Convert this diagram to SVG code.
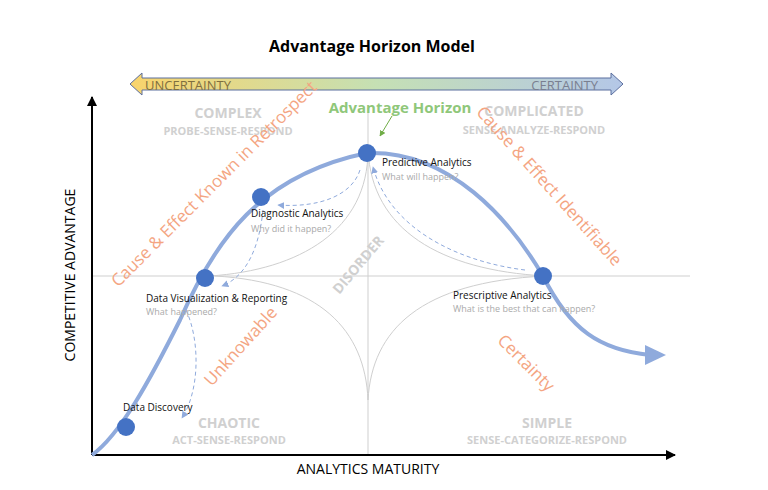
<svg xmlns="http://www.w3.org/2000/svg" width="768" height="490" viewBox="0 0 768 490">
<style>
.t{font-family:"Open Sans","Liberation Sans",sans-serif}
.dom{fill:#d0d0d0;font-weight:bold;font-size:14px}
.sub{fill:#d0d0d0;font-weight:bold;font-size:11px}
.or{fill:#f4a582;font-size:17px}
.lbl{fill:#111;font-size:10px}
.q{fill:#aaa;font-size:9px}
.g{fill:none;stroke:#cfcfcf;stroke-width:1}
.d{fill:none;stroke:#8faadc;stroke-width:1;stroke-dasharray:4 3}
.n{fill:#4472c4}
</style>
<defs>
<linearGradient id="gr" x1="0" x2="1"><stop offset="0" stop-color="#f9d46c"/><stop offset="0.5" stop-color="#c5e0b4"/><stop offset="1" stop-color="#b4c7e7"/></linearGradient>
<marker id="ah" viewBox="0 0 10 10" refX="9" refY="5" markerWidth="7" markerHeight="7" orient="auto"><path d="M0,0L10,5L0,10z" fill="#8faadc"/></marker>
<marker id="ax" viewBox="0 0 10 10" refX="9" refY="5" markerWidth="5" markerHeight="5" orient="auto"><path d="M0,0L10,5L0,10z" fill="#000"/></marker>
<marker id="gh" viewBox="0 0 10 10" refX="9" refY="5" markerWidth="6" markerHeight="6" orient="auto"><path d="M0,0L10,5L0,10z" fill="#70ad47"/></marker>
</defs>
<text class="t" x="372" y="52" text-anchor="middle" font-size="16" font-weight="bold" fill="#000">Advantage Horizon Model</text>
<g id="banner">
<path d="M130,84 L142,73 L142,78 L611,78 L611,73 L623,84 L611,95 L611,90 L142,90 L142,95 Z" fill="url(#gr)" stroke="#5b6e9e" stroke-width="1"/>
<text class="t" x="145" y="90" font-size="13" fill="#7f6f3f">UNCERTAINTY</text>
<text class="t" x="598" y="90" font-size="13" fill="#7a7f90" text-anchor="end">CERTAINTY</text>
</g>
<g id="grid">
<line x1="92" y1="276" x2="690" y2="276" class="g"/>
<line x1="368" y1="108" x2="368" y2="455" class="g"/>
<path class="g" d="M368,150 C368,230 300,270 210,276"/>
<path class="g" d="M368,150 C372,230 440,270 545,276"/>
<path class="g" d="M215,276 C320,282 365,330 368,400"/>
<path class="g" d="M545,276 C420,282 372,330 368,400"/>
</g>
<g id="axes">
<line x1="92" y1="455" x2="92" y2="97" stroke="#000" stroke-width="2" marker-end="url(#ax)"/>
<line x1="92" y1="455" x2="675" y2="455" stroke="#000" stroke-width="2" marker-end="url(#ax)"/>
<text class="t" x="368" y="474" text-anchor="middle" font-size="14" fill="#000">ANALYTICS MATURITY</text>
<text class="t" transform="translate(75,275) rotate(-90)" text-anchor="middle" font-size="14" fill="#000">COMPETITIVE ADVANTAGE</text>
</g>
<g id="domains">
<text class="t dom" x="228" y="118" text-anchor="middle">COMPLEX</text>
<text class="t sub" x="228" y="135" text-anchor="middle">PROBE-SENSE-RESPOND</text>
<text class="t dom" x="534" y="116" text-anchor="middle">COMPLICATED</text>
<text class="t sub" x="534" y="134" text-anchor="middle">SENSE-ANALYZE-RESPOND</text>
<text class="t dom" x="229" y="428" text-anchor="middle">CHAOTIC</text>
<text class="t sub" x="229" y="444" text-anchor="middle">ACT-SENSE-RESPOND</text>
<text class="t dom" x="547" y="428" text-anchor="middle">SIMPLE</text>
<text class="t sub" x="547" y="444" text-anchor="middle">SENSE-CATEGORIZE-RESPOND</text>
<text class="t dom" transform="translate(362,268) rotate(-50)" text-anchor="middle">DISORDER</text>
<text class="t" x="400" y="113" text-anchor="middle" font-size="15" font-weight="bold" fill="#8fc77a">Advantage Horizon</text>
<line x1="392" y1="116" x2="380" y2="136" stroke="#70ad47" stroke-width="1" marker-end="url(#gh)"/>
</g>
<g id="regions">
<text class="t or" transform="translate(218,188) rotate(-45)" text-anchor="middle">Cause &amp; Effect Known in Retrospect</text>
<text class="t or" transform="translate(545,190) rotate(48)" text-anchor="middle">Cause &amp; Effect Identifiable</text>
<text class="t or" transform="translate(245,350) rotate(-48)" text-anchor="middle">Unknowable</text>
<text class="t or" transform="translate(522,367) rotate(45)" text-anchor="middle">Certainty</text>
</g>
<g id="connectors">
<path d="M92,455 C120,435 150,380 180,320 C215,240 260,175 367,153 C450,150 510,220 543,276 C570,330 600,350 650,355" fill="none" stroke="#8faadc" stroke-width="4"/>
<path d="M645,345 L666,355 L645,365 Z" fill="#8faadc"/>
<path class="d" d="M360,170 C352,195 320,208 278,205" marker-end="url(#ah)"/>
<path class="d" d="M263,210 C260,240 250,275 222,286" marker-end="url(#ah)"/>
<path class="d" d="M186,310 C200,340 200,390 182,418" marker-end="url(#ah)"/>
<path class="d" d="M525,270 C460,262 390,230 373,167" marker-end="url(#ah)"/>
</g>
<g id="n1"><circle class="n" cx="126" cy="427" r="9"/><text class="t lbl" x="123" y="411">Data Discovery</text></g>
<g id="n2"><circle class="n" cx="205" cy="278" r="9"/><text class="t lbl" x="146" y="302">Data Visualization &amp; Reporting</text><text class="t q" x="146" y="315">What happened?</text></g>
<g id="n3"><circle class="n" cx="261" cy="197" r="9"/><text class="t lbl" x="251" y="217">Diagnostic Analytics</text><text class="t q" x="251" y="232">Why did it happen?</text></g>
<g id="n4"><circle class="n" cx="367" cy="153" r="9"/><text class="t lbl" x="382" y="166">Predictive Analytics</text><text class="t q" x="382" y="180">What will happen?</text></g>
<g id="n5"><circle class="n" cx="543" cy="276" r="9"/><text class="t lbl" x="453" y="299">Prescriptive Analytics</text><text class="t q" x="453" y="312">What is the best that can happen?</text></g>
</svg>
